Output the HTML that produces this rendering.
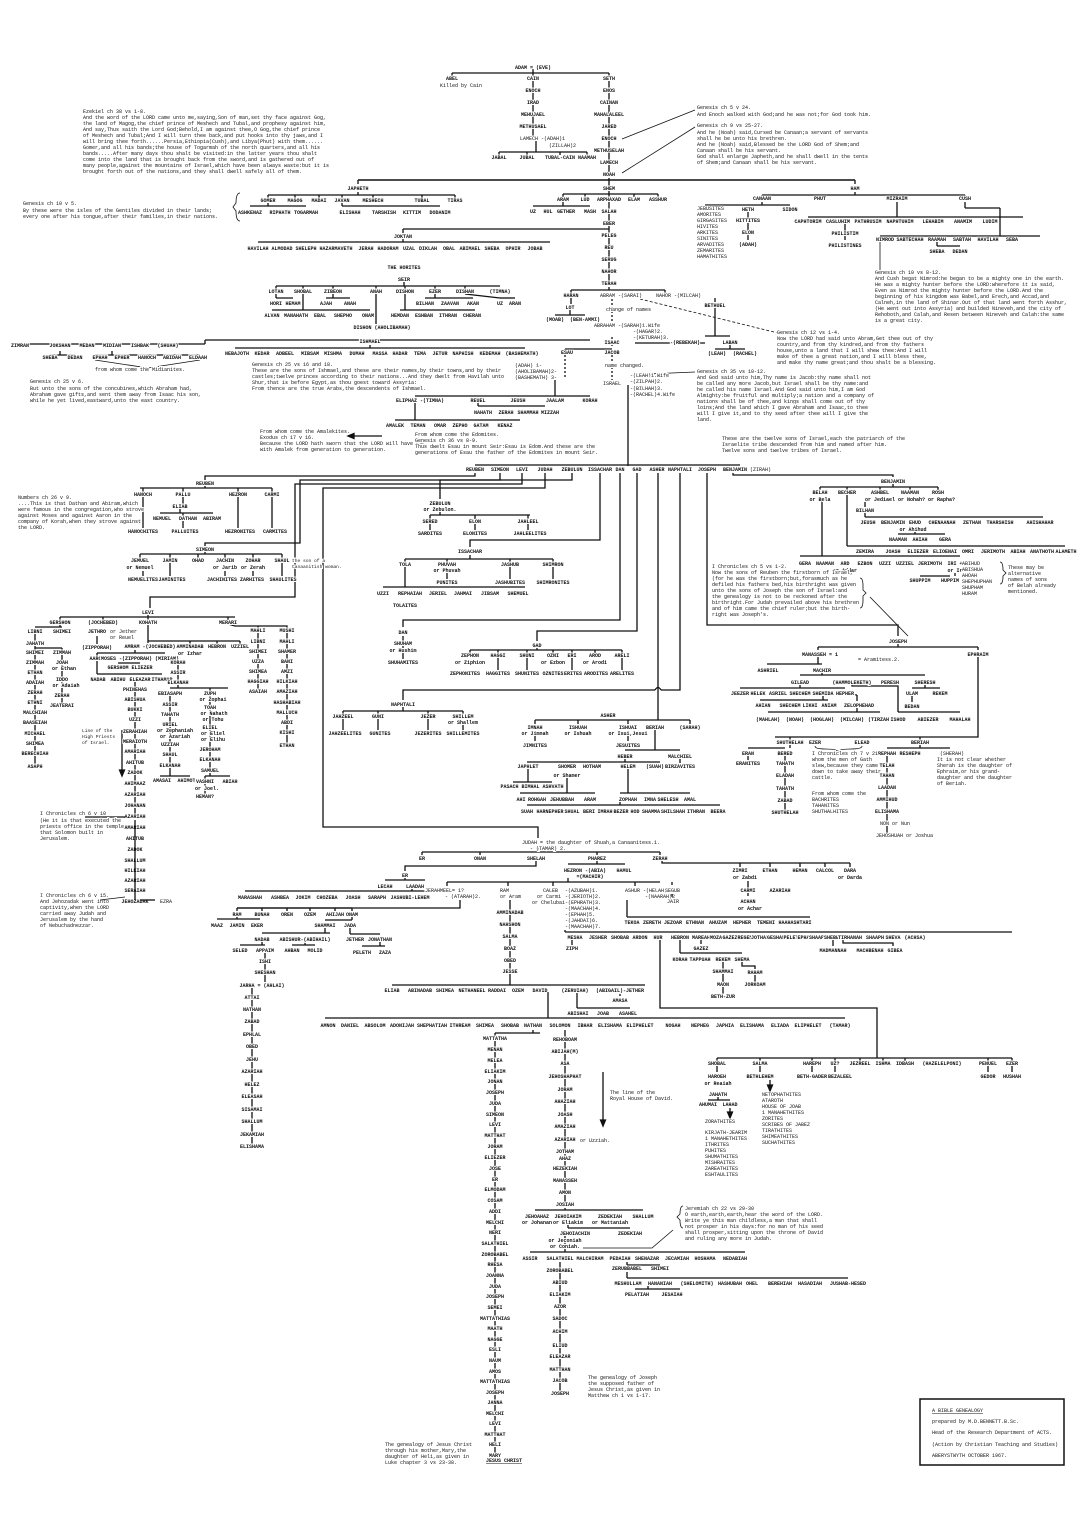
<!DOCTYPE html>
<html><head><meta charset="utf-8"><style>
html,body{margin:0;padding:0;background:#fff}
svg{display:block}
text{font-family:"Liberation Mono",monospace;font-size:5px;fill:#111;stroke:#fff;stroke-width:2;paint-order:stroke}
.n{text-anchor:middle;font-weight:bold}
.p{font-size:4.6px;fill:#222}
line,polyline,path{stroke:#111;stroke-width:1.3;fill:none}
.th{stroke-width:0.8}
</style></head><body>
<svg width="1085" height="1536" viewBox="0 0 1085 1536" xmlns="http://www.w3.org/2000/svg">
<rect width="1085" height="1536" fill="#fff"/>
<!-- ===== ADAM ===== -->
<line x1="533" y1="69" x2="533" y2="73"/><line x1="452" y1="73" x2="609" y2="73"/>
<line x1="452" y1="73" x2="452" y2="76"/>
<line x1="533" y1="73" x2="533" y2="140"/><line x1="609" y1="73" x2="609" y2="176"/>
<line x1="536" y1="140" x2="536" y2="152"/><line x1="499" y1="152" x2="587" y2="152"/>
<line x1="499" y1="152" x2="499" y2="155"/><line x1="527" y1="152" x2="527" y2="155"/><line x1="560" y1="152" x2="560" y2="155"/><line x1="587" y1="152" x2="587" y2="155"/>
<g class="n">
<text x="533" y="69">ADAM = (EVE)</text>
<text x="452" y="80">ABEL</text>
<text x="533" y="80">CAIN</text><text x="533" y="92">ENOCH</text><text x="533" y="104">IRAD</text><text x="533" y="116">MEHUJAEL</text><text x="533" y="128">METHUSAEL</text>
<text x="609" y="80">SETH</text><text x="609" y="92">ENOS</text><text x="609" y="104">CAINAN</text><text x="609" y="116">MAHALALEEL</text><text x="609" y="128">JARED</text><text x="609" y="140">ENOCH</text><text x="609" y="152">METHUSELAH</text><text x="609" y="164">LAMECH</text><text x="609" y="176">NOAH</text>
<text x="499" y="159">JABAL</text><text x="527" y="159">JUBAL</text><text x="560" y="159">TUBAL-CAIN</text><text x="587" y="159">NAAMAH</text>
</g>
<text x="440" y="87">Killed by Cain</text>
<text x="520" y="140">LAMECH -(ADAH)1</text><text x="549" y="147">(ZILLAH)2</text>
<line class="th" x1="622" y1="139" x2="695" y2="110"/><line class="th" x1="622" y1="173" x2="695" y2="127"/>
<g class="p">
<text x="697" y="109">Genesis ch 5 v 24.</text>
<text x="697" y="116">And Enoch walked with God;and he was not;for God took him.</text>
<text x="697" y="127">Genesis ch 9 vs 25-27.</text>
<text x="697" y="134">And he (Noah) said,Cursed be Canaan;a servant of servants</text>
<text x="697" y="140">shall he be unto his brethren.</text>
<text x="697" y="146">And he (Noah) said,Blessed be the LORD God of Shem;and</text>
<text x="697" y="152">Canaan shall be his servant.</text>
<text x="697" y="158">God shall enlarge Japheth,and he shall dwell in the tents</text>
<text x="697" y="164">of Shem;and Canaan shall be his servant.</text>
<text x="83" y="113">Ezekiel ch 38 vs 1-8.</text>
<text x="83" y="119">And the word of the LORD came unto me,saying,Son of man,set thy face against Gog,</text>
<text x="83" y="125">the land of Magog,the chief prince of Meshech and Tubal,and prophesy against him,</text>
<text x="83" y="131">And say,Thus saith the Lord God;Behold,I am against thee,O Gog,the chief prince</text>
<text x="83" y="137">of Meshech and Tubal;And I will turn thee back,and put hooks into thy jaws,and I</text>
<text x="83" y="143">will bring thee forth......Persia,Ethiopia(Cush),and Libya(Phut) with them......</text>
<text x="83" y="149">Gomer,and all his bands;the house of Togarmah of the north quarters,and all his</text>
<text x="83" y="155">bands.....After many days thou shalt be visited:in the latter years thou shalt</text>
<text x="83" y="161">come into the land that is brought back from the sword,and is gathered out of</text>
<text x="83" y="167">many people,against the mountains of Israel,which have been always waste:but it is</text>
<text x="83" y="173">brought forth out of the nations,and they shall dwell safely all of them.</text>
<text x="23" y="205">Genesis ch 10 v 5.</text>
<text x="23" y="212">By these were the isles of the Gentiles divided in their lands;</text>
<text x="23" y="218">every one after his tongue,after their families,in their nations.</text>
</g>
<!-- ===== NOAH's sons ===== -->
<line x1="609" y1="178" x2="609" y2="180"/>
<line x1="358" y1="180" x2="855" y2="180" style="stroke-width:1.6"/>
<line x1="358" y1="180" x2="358" y2="184"/><line x1="855" y1="180" x2="855" y2="184"/>
<line x1="609" y1="180" x2="609" y2="285"/>
<g class="n">
<text x="358" y="190">JAPHETH</text><text x="609" y="190">SHEM</text><text x="855" y="190">HAM</text>
</g>
<!-- Japheth -->
<line x1="358" y1="192" x2="358" y2="195"/><line x1="268" y1="195" x2="455" y2="195"/>
<line x1="268" y1="195" x2="268" y2="198"/><line x1="295" y1="195" x2="295" y2="198"/><line x1="319" y1="195" x2="319" y2="198"/><line x1="342" y1="195" x2="342" y2="198"/><line x1="373" y1="195" x2="373" y2="198"/><line x1="422" y1="195" x2="422" y2="198"/><line x1="455" y1="195" x2="455" y2="198"/>
<line x1="268" y1="203" x2="268" y2="206"/><line x1="250" y1="206" x2="306" y2="206"/>
<line x1="342" y1="203" x2="342" y2="206"/><line x1="342" y1="206" x2="440" y2="206"/>
<path class="th" d="M240 193 Q236 193 236 203 L233 207 L236 211 Q236 221 240 221"/>
<g class="n">
<text x="268" y="202">GOMER</text><text x="295" y="202">MAGOG</text><text x="319" y="202">MADAI</text><text x="342" y="202">JAVAN</text><text x="373" y="202">MESHECH</text><text x="422" y="202">TUBAL</text><text x="455" y="202">TIRAS</text>
<text x="250" y="214">ASHKENAZ</text><text x="280" y="214">RIPHATH</text><text x="306" y="214">TOGARMAH</text><text x="350" y="214">ELISHAH</text><text x="384" y="214">TARSHISH</text><text x="412" y="214">KITTIM</text><text x="440" y="214">DODANIM</text>
</g>
<!-- Shem -->
<line x1="563" y1="194" x2="658" y2="194"/>
<line x1="563" y1="194" x2="563" y2="197"/><line x1="585" y1="194" x2="585" y2="197"/><line x1="634" y1="194" x2="634" y2="197"/><line x1="658" y1="194" x2="658" y2="197"/>
<line x1="563" y1="202" x2="563" y2="206"/><line x1="533" y1="206" x2="590" y2="206"/>
<line x1="609" y1="229" x2="403" y2="229"/><line x1="403" y1="229" x2="403" y2="233"/>
<line x1="403" y1="238" x2="403" y2="242"/><line x1="258" y1="242" x2="550" y2="242"/>
<g class="n">
<text x="563" y="201">ARAM</text><text x="585" y="201">LUD</text><text x="609" y="201">ARPHAXAD</text><text x="634" y="201">ELAM</text><text x="658" y="201">ASSHUR</text>
<text x="533" y="213">UZ</text><text x="548" y="213">HUL</text><text x="566" y="213">GETHER</text><text x="590" y="213">MASH</text>
<text x="609" y="213">SALAH</text><text x="609" y="225">EBER</text><text x="609" y="237">PELEG</text><text x="609" y="249">REU</text><text x="609" y="261">SERUG</text><text x="609" y="273">NAHOR</text><text x="609" y="285">TERAH</text>
<text x="403" y="238">JOKTAN</text>
<text x="258" y="250">HAVILAH</text><text x="282" y="250">ALMODAD</text><text x="306" y="250">SHELEPH</text><text x="336" y="250">HAZARMAVETH</text><text x="366" y="250">JERAH</text><text x="388" y="250">HADORAM</text><text x="409" y="250">UZAL</text><text x="428" y="250">DIKLAH</text><text x="449" y="250">OBAL</text><text x="470" y="250">ABIMAEL</text><text x="492" y="250">SHEBA</text><text x="513" y="250">OPHIR</text><text x="535" y="250">JOBAB</text>
</g>
<!-- Seir -->
<line x1="404" y1="281" x2="404" y2="286"/><line x1="276" y1="286" x2="500" y2="286"/>
<line x1="276" y1="286" x2="276" y2="289"/><line x1="303" y1="286" x2="303" y2="289"/><line x1="333" y1="286" x2="333" y2="289"/><line x1="376" y1="286" x2="376" y2="289"/><line x1="405" y1="286" x2="405" y2="289"/><line x1="435" y1="286" x2="435" y2="289"/><line x1="465" y1="286" x2="465" y2="289"/>
<line x1="276" y1="294" x2="276" y2="298"/><line x1="276" y1="298" x2="293" y2="298"/>
<line x1="333" y1="294" x2="333" y2="298"/><line x1="326" y1="298" x2="350" y2="298"/>
<line x1="303" y1="294" x2="303" y2="310"/><line x1="272" y1="310" x2="370" y2="310"/>
<line x1="405" y1="294" x2="405" y2="310"/><line x1="400" y1="310" x2="475" y2="310"/>
<line x1="435" y1="294" x2="435" y2="298"/><line x1="425" y1="298" x2="473" y2="298"/>
<line x1="465" y1="294" x2="500" y2="298"/><line x1="500" y1="298" x2="515" y2="298"/>
<line x1="376" y1="294" x2="376" y2="324"/>
<g class="n">
<text x="404" y="269">THE HORITES</text><text x="404" y="281">SEIR</text>
<text x="276" y="293">LOTAN</text><text x="303" y="293">SHOBAL</text><text x="333" y="293">ZIBEON</text><text x="376" y="293">ANAH</text><text x="405" y="293">DISHON</text><text x="435" y="293">EZER</text><text x="465" y="293">DISHAN</text><text x="500" y="293">(TIMNA)</text>
<text x="276" y="305">HORI</text><text x="293" y="305">HEMAM</text><text x="326" y="305">AJAH</text><text x="350" y="305">ANAH</text><text x="425" y="305">BILHAN</text><text x="450" y="305">ZAAVAN</text><text x="473" y="305">AKAN</text><text x="500" y="305">UZ</text><text x="515" y="305">ARAN</text>
<text x="272" y="317">ALVAN</text><text x="296" y="317">MANAHATH</text><text x="320" y="317">EBAL</text><text x="343" y="317">SHEPHO</text><text x="368" y="317">ONAM</text>
<text x="400" y="317">HEMDAN</text><text x="424" y="317">ESHBAN</text><text x="448" y="317">ITHRAN</text><text x="472" y="317">CHERAN</text>
<text x="382" y="329">DISHON (AHOLIBAMAH)</text>
</g>
<!-- Terah -->
<line x1="609" y1="287" x2="609" y2="290"/><line x1="571" y1="290" x2="665" y2="290"/>
<line x1="571" y1="290" x2="571" y2="293"/><line x1="665" y1="290" x2="665" y2="293"/>
<line x1="571" y1="298" x2="571" y2="304"/><line x1="570" y1="310" x2="570" y2="315"/><line x1="555" y1="315" x2="585" y2="315"/>
<line x1="715" y1="298" x2="715" y2="302"/><line x1="715" y1="308" x2="715" y2="336"/><line x1="705" y1="336" x2="730" y2="336"/>
<line x1="612" y1="299" x2="612" y2="323" style="stroke-dasharray:2 2"/>
<line class="th" x1="640" y1="299" x2="778" y2="333" style="stroke-dasharray:3 2"/>
<g class="n">
<text x="571" y="297">HARAN</text><text x="570" y="309">LOT</text><text x="555" y="321">(MOAB)</text><text x="585" y="321">(BEN-AMMI)</text>
<text x="715" y="307">BETHUEL</text>
</g>
<text x="600" y="297">ABRAM -(SARAI)</text><text x="656" y="297">NAHOR -(MILCAH)</text>
<text x="606" y="311">change of names</text>
<text x="594" y="327">ABRAHAM -(SARAH)1.Wife</text><text x="633" y="333">-(HAGAR)2.</text><text x="633" y="339">-(KETURAH)3.</text>
<!-- Ham -->
<line x1="855" y1="192" x2="855" y2="195"/><line x1="762" y1="195" x2="965" y2="195"/>
<line x1="762" y1="195" x2="762" y2="197"/><line x1="820" y1="195" x2="820" y2="197"/><line x1="897" y1="195" x2="897" y2="197"/><line x1="965" y1="195" x2="965" y2="197"/>
<line x1="762" y1="202" x2="762" y2="205"/><line x1="705" y1="205" x2="790" y2="205"/>
<line x1="748" y1="212" x2="748" y2="240"/>
<line x1="897" y1="202" x2="897" y2="217"/><line x1="808" y1="217" x2="1023" y2="217"/>
<line x1="845" y1="224" x2="845" y2="240"/>
<line x1="965" y1="202" x2="965" y2="208"/><line x1="965" y1="208" x2="1000" y2="208"/><line x1="1000" y1="208" x2="1000" y2="236"/>
<line x1="880" y1="236" x2="1040" y2="236"/>
<line x1="937" y1="242" x2="937" y2="246"/><line x1="937" y1="246" x2="960" y2="246"/>
<line class="th" x1="880" y1="242" x2="880" y2="272"/>
<g class="n">
<text x="762" y="200">CANAAN</text><text x="820" y="200">PHUT</text><text x="897" y="200">MIZRAIM</text><text x="965" y="200">CUSH</text>
<text x="748" y="211">HETH</text><text x="790" y="211">SIDON</text>
<text x="748" y="222">HITTITES</text><text x="748" y="234">ELON</text><text x="748" y="246">(ADAH)</text>
<text x="808" y="223">CAPHTORIM</text><text x="838" y="223">CASLUHIM</text><text x="868" y="223">PATHRUSIM</text><text x="900" y="223">NAPHTUHIM</text><text x="933" y="223">LEHABIM</text><text x="963" y="223">ANAMIM</text><text x="990" y="223">LUDIM</text>
<text x="845" y="235">PHILISTIM</text><text x="845" y="247">PHILISTINES</text>
<text x="885" y="241">NIMROD</text><text x="910" y="241">SABTECHAH</text><text x="937" y="241">RAAMAH</text><text x="962" y="241">SABTAH</text><text x="988" y="241">HAVILAH</text><text x="1012" y="241">SEBA</text>
<text x="937" y="253">SHEBA</text><text x="960" y="253">DEDAN</text>
</g>
<g class="p">
<text x="697" y="210">JEBUSITES</text><text x="697" y="216">AMORITES</text><text x="697" y="222">GIRGASITES</text><text x="697" y="228">HIVITES</text><text x="697" y="234">ARKITES</text><text x="697" y="240">SINITES</text><text x="697" y="246">ARVADITES</text><text x="697" y="252">ZEMARITES</text><text x="697" y="258">HAMATHITES</text>
<text x="875" y="274">Genesis ch 10 vs 8-12.</text>
<text x="875" y="280">And Cush begat Nimrod:he began to be a mighty one in the earth.</text>
<text x="875" y="286">He was a mighty hunter before the LORD:wherefore it is said,</text>
<text x="875" y="292">Even as Nimrod the mighty hunter before the LORD.And the</text>
<text x="875" y="298">beginning of his kingdom was Babel,and Erech,and Accad,and</text>
<text x="875" y="304">Calneh,in the land of Shinar.Out of that land went forth Asshur,</text>
<text x="875" y="310">(He went out into Assyria) and builded Nineveh,and the city of</text>
<text x="875" y="316">Rehoboth,and Calah,and Resen between Nineveh and Calah:the same</text>
<text x="875" y="322">is a great city.</text>
<text x="777" y="334">Genesis ch 12 vs 1-4.</text>
<text x="777" y="340">Now the LORD had said unto Abram,Get thee out of thy</text>
<text x="777" y="346">country,and from thy kindred,and from thy fathers</text>
<text x="777" y="352">house,unto a land that I will shew thee:And I will</text>
<text x="777" y="358">make of thee a great nation,and I will bless thee,</text>
<text x="777" y="364">and make thy name great;and thou shalt be a blessing.</text>
</g>
<!-- ===== Abraham's line ===== -->
<line x1="612" y1="337" x2="612" y2="339"/>
<line x1="612" y1="343" x2="612" y2="346"/>
<line x1="15" y1="344" x2="205" y2="344"/><line x1="205" y1="344" x2="205" y2="340"/><line x1="205" y1="340" x2="590" y2="340"/>
<line x1="15" y1="344" x2="15" y2="346"/><line x1="60" y1="344" x2="60" y2="346"/><line x1="87" y1="344" x2="87" y2="346"/><line x1="112" y1="344" x2="112" y2="346"/><line x1="140" y1="344" x2="140" y2="346"/><line x1="168" y1="344" x2="168" y2="346"/>
<line x1="60" y1="351" x2="60" y2="355"/><line x1="50" y1="355" x2="75" y2="355"/>
<line x1="112" y1="351" x2="112" y2="355"/><line x1="95" y1="355" x2="200" y2="355"/>
<path class="th" d="M95 360 L148 368 L200 360"/>
<line x1="370" y1="340" x2="370" y2="342"/>
<line x1="370" y1="345" x2="370" y2="348"/><line x1="235" y1="348" x2="525" y2="348"/>
<line x1="635" y1="343" x2="705" y2="343"/>
<line x1="730" y1="345" x2="730" y2="349"/><line x1="715" y1="349" x2="745" y2="349"/>
<line x1="565" y1="349" x2="612" y2="349"/><line x1="565" y1="349" x2="565" y2="351"/>
<line x1="565" y1="355" x2="565" y2="378" style="stroke-dasharray:2 2"/>
<line x1="612" y1="355" x2="612" y2="380" style="stroke-dasharray:2 2"/>
<line x1="555" y1="380" x2="555" y2="396"/><line x1="415" y1="396" x2="590" y2="396"/>
<line x1="478" y1="402" x2="478" y2="406"/><line x1="478" y1="406" x2="545" y2="406"/>
<line x1="415" y1="402" x2="415" y2="420"/><line x1="395" y1="420" x2="520" y2="420"/>
<line x1="382" y1="436" x2="348" y2="436"/><path d="M348 436 l6 -2.5 l0 5 z" style="fill:#111"/>
<line x1="628" y1="385" x2="628" y2="466"/>
<line class="th" x1="648" y1="374" x2="695" y2="372"/>
<g class="n">
<text x="20" y="347">ZIMRAN</text><text x="60" y="347">JOKSHAN</text><text x="87" y="347">MEDAN</text><text x="112" y="347">MIDIAN</text><text x="140" y="347">ISHBAK</text><text x="168" y="347">(SHUAH)</text>
<text x="50" y="359">SHEBA</text><text x="75" y="359">DEDAN</text>
<text x="100" y="359">EPHAH</text><text x="122" y="359">EPHER</text><text x="147" y="359">HANOCH</text><text x="172" y="359">ABIDAH</text><text x="198" y="359">ELDAAH</text>
<text x="370" y="343">ISHMAEL</text>
<text x="612" y="344">ISAAC</text><text x="730" y="344">LABAN</text><text x="685" y="344">-(REBEKAH)</text>
<text x="717" y="355">(LEAH)</text><text x="745" y="355">(RACHEL)</text>
<text x="237" y="355">NEBAJOTH</text><text x="262" y="355">KEDAR</text><text x="285" y="355">ADBEEL</text><text x="310" y="355">MIBSAM</text><text x="333" y="355">MISHMA</text><text x="357" y="355">DUMAH</text><text x="380" y="355">MASSA</text><text x="400" y="355">HADAR</text><text x="420" y="355">TEMA</text><text x="440" y="355">JETUR</text><text x="463" y="355">NAPHISH</text><text x="490" y="355">KEDEMAH</text><text x="522" y="355">(BASHEMATH)</text>
<text x="567" y="354">ESAU</text><text x="612" y="354">JACOB</text>
<text x="420" y="402">ELIPHAZ -(TIMNA)</text><text x="478" y="402">REUEL</text><text x="518" y="402">JEUSH</text><text x="555" y="402">JAALAM</text><text x="590" y="402">KORAH</text>
<text x="483" y="414">NAHATH</text><text x="506" y="414">ZERAH</text><text x="528" y="414">SHAMMAH</text><text x="550" y="414">MIZZAH</text>
<text x="395" y="427">AMALEK</text><text x="418" y="427">TEMAN</text><text x="440" y="427">OMAR</text><text x="460" y="427">ZEPHO</text><text x="481" y="427">GATAM</text><text x="505" y="427">KENAZ</text>
</g>
<text x="605" y="367">name changed.</text>
<text x="603" y="385">ISRAEL</text>
<text x="630" y="377">-(LEAH)1.Wife</text><text x="630" y="383">-(ZILPAH)2.</text><text x="630" y="390">-(BILHAH)3.</text><text x="630" y="396">-(RACHEL)4.Wife</text>
<text x="515" y="367">(ADAH)    1-</text><text x="515" y="373">(AHOLIBAMAH)2-</text><text x="515" y="379">(BASHEMATH) 3-</text>
<g class="p">
<text x="95" y="371">from whom come the Midianites.</text>
<text x="30" y="383">Genesis ch 25 v 6.</text>
<text x="30" y="390">But unto the sons of the concubines,which Abraham had,</text>
<text x="30" y="396">Abraham gave gifts,and sent them away from Isaac his son,</text>
<text x="30" y="402">while he yet lived,eastward,unto the east country.</text>
<text x="252" y="366">Genesis ch 25 vs 16 and 18.</text>
<text x="252" y="372">These are the sons of Ishmael,and these are their names,by their towns,and by their</text>
<text x="252" y="378">castles;twelve princes according to their nations...And they dwelt from Havilah unto</text>
<text x="252" y="384">Shur,that is before Egypt,as thou goest toward Assyria:</text>
<text x="252" y="390">From thence are the true Arabs,the descendents of Ishmael.</text>
<text x="260" y="433">From whom come the Amalekites.</text>
<text x="260" y="439">Exodus ch 17 v 16.</text>
<text x="260" y="445">Because the LORD hath sworn that the LORD will have war</text>
<text x="260" y="451">with Amalek from generation to generation.</text>
<text x="415" y="436">From whom come the Edomites.</text>
<text x="415" y="442">Genesis ch 36 vs 8-9.</text>
<text x="415" y="448">Thus dwelt Esau in mount Seir:Esau is Edom.And these are the</text>
<text x="415" y="454">generations of Esau the father of the Edomites in mount Seir.</text>
<text x="697" y="373">Genesis ch 35 vs 10-12.</text>
<text x="697" y="379">And God said unto him,Thy name is Jacob:thy name shall not</text>
<text x="697" y="385">be called any more Jacob,but Israel shall be thy name:and</text>
<text x="697" y="391">he called his name Israel.And God said unto him,I am God</text>
<text x="697" y="397">Almighty:be fruitful and multiply;a nation and a company of</text>
<text x="697" y="403">nations shall be of thee,and kings shall come out of thy</text>
<text x="697" y="409">loins;And the land which I gave Abraham and Isaac,to thee</text>
<text x="697" y="415">will I give it,and to thy seed after thee will I give the</text>
<text x="697" y="421">land.</text>
<text x="722" y="440">These are the twelve sons of Israel,each the patriarch of the</text>
<text x="722" y="446">Israelite tribe descended from him and named after him.</text>
<text x="722" y="452">Twelve sons and twelve tribes of Israel.</text>
</g>
<!-- ===== 12 sons ===== -->
<line x1="475" y1="465" x2="740" y2="465"/>
<g class="n">
<text x="475" y="471">REUBEN</text><text x="500" y="471">SIMEON</text><text x="522" y="471">LEVI</text><text x="545" y="471">JUDAH</text><text x="572" y="471">ZEBULUN</text><text x="600" y="471">ISSACHAR</text><text x="620" y="471">DAN</text><text x="637" y="471">GAD</text><text x="657" y="471">ASHER</text><text x="680" y="471">NAPHTALI</text><text x="707" y="471">JOSEPH</text><text x="735" y="471">BENJAMIN</text>
</g>
<text x="750" y="471">(ZIRAH)</text>
<!-- connectors -->
<polyline points="475,473 475,476 205,476 205,480"/>
<polyline points="500,473 500,480 300,480 300,543 205,543 205,546"/>
<polyline points="522,473 522,484 295,484 295,597 150,597 150,608"/>
<polyline points="545,473 545,488 323,488 323,827 538,827 538,838"/>
<polyline points="572,473 572,480 440,480 440,499"/>
<polyline points="600,473 600,540 470,540 470,547"/>
<polyline points="620,473 620,620 403,620 403,627"/>
<polyline points="637,473 637,631 537,631 537,641"/>
<polyline points="680,473 680,690 661,690"/><polyline points="655,690 403,690 403,700"/>
<path d="M655 690 q3 -5 6 0"/>
<line x1="658" y1="473" x2="658" y2="720"/>
<polyline points="707,473 707,625 898,625 898,636"/>
<polyline points="733,473 733,475 893,475 893,477"/>
<!-- Reuben -->
<line x1="140" y1="488" x2="272" y2="488"/><line x1="205" y1="486" x2="205" y2="488"/>
<line x1="143" y1="488" x2="143" y2="492"/><line x1="183" y1="488" x2="183" y2="492"/><line x1="238" y1="488" x2="238" y2="492"/><line x1="272" y1="488" x2="272" y2="492"/>
<line x1="143" y1="497" x2="143" y2="528"/><line x1="238" y1="497" x2="238" y2="528"/><line x1="272" y1="497" x2="272" y2="528"/>
<line x1="183" y1="497" x2="183" y2="504"/><line x1="180" y1="509" x2="180" y2="513"/><line x1="160" y1="513" x2="213" y2="513"/><line x1="183" y1="513" x2="183" y2="528"/>
<g class="n">
<text x="205" y="485">REUBEN</text>
<text x="143" y="496">HANOCH</text><text x="183" y="496">PALLU</text><text x="238" y="496">HEZRON</text><text x="272" y="496">CARMI</text>
<text x="180" y="508">ELIAB</text>
<text x="162" y="520">NEMUEL</text><text x="188" y="520">DATHAN</text><text x="212" y="520">ABIRAM</text>
<text x="143" y="533">HANOCHITES</text><text x="185" y="533">PALLUITES</text><text x="240" y="533">HEZRONITES</text><text x="275" y="533">CARMITES</text>
</g>
<g class="p">
<text x="18" y="499">Numbers ch 26 v 9.</text>
<text x="18" y="505">....This is that Dathan and Abiram,which</text>
<text x="18" y="511">were famous in the congregation,who strove</text>
<text x="18" y="517">against Moses and against Aaron in the</text>
<text x="18" y="523">company of Korah,when they strove against</text>
<text x="18" y="529">the LORD.</text>
</g>
<!-- Simeon -->
<line x1="140" y1="554" x2="282" y2="554"/><line x1="205" y1="551" x2="205" y2="554"/>
<line x1="140" y1="554" x2="140" y2="558"/><line x1="170" y1="554" x2="170" y2="558"/><line x1="198" y1="554" x2="198" y2="558"/><line x1="225" y1="554" x2="225" y2="558"/><line x1="253" y1="554" x2="253" y2="558"/><line x1="282" y1="554" x2="282" y2="558"/>
<line x1="170" y1="563" x2="170" y2="576"/><line x1="143" y1="571" x2="143" y2="576"/><line x1="225" y1="571" x2="225" y2="576"/><line x1="253" y1="571" x2="253" y2="576"/><line x1="282" y1="563" x2="282" y2="576"/>
<g class="n">
<text x="205" y="551">SIMEON</text>
<text x="140" y="562">JEMUEL</text><text x="170" y="562">JAMIN</text><text x="198" y="562">OHAD</text><text x="225" y="562">JACHIN</text><text x="253" y="562">ZOHAR</text><text x="282" y="562">SHAUL</text>
<text x="140" y="569">or Nemuel</text><text x="225" y="569">or Jarib</text><text x="253" y="569">or Zerah</text>
<text x="143" y="581">NEMUELITES</text><text x="172" y="581">JAMINITES</text><text x="222" y="581">JACHINITES</text><text x="252" y="581">ZARHITES</text><text x="283" y="581">SHAULITES</text>
</g>
<text class="p" x="292" y="562">the son of a</text><text class="p" x="292" y="568">Canaanitish woman.</text>
<!-- Levi -->
<line x1="60" y1="617" x2="235" y2="617"/><line x1="148" y1="614" x2="148" y2="617"/>
<line x1="60" y1="617" x2="60" y2="620"/><line x1="103" y1="617" x2="103" y2="620"/><line x1="148" y1="617" x2="148" y2="620"/><line x1="228" y1="617" x2="228" y2="620"/>
<polyline points="228,624 235,626 287,626 287,629"/><line x1="258" y1="626" x2="258" y2="629"/>
<line x1="60" y1="624" x2="60" y2="627"/><line x1="35" y1="627" x2="62" y2="627"/>
<line x1="35" y1="633" x2="35" y2="766"/><line x1="35" y1="648" x2="62" y2="648"/><line x1="62" y1="648" x2="62" y2="704"/>
<line x1="97" y1="636" x2="97" y2="644"/>
<line x1="148" y1="624" x2="148" y2="646"/><line x1="148" y1="641" x2="240" y2="641"/>
<line x1="190" y1="641" x2="190" y2="645"/><line x1="217" y1="641" x2="217" y2="644"/><line x1="240" y1="641" x2="240" y2="644"/>
<line x1="135" y1="650" x2="135" y2="653"/><line x1="97" y1="653" x2="165" y2="653"/><line x1="97" y1="653" x2="97" y2="674"/>
<line x1="97" y1="674" x2="162" y2="674"/><line x1="118" y1="663" x2="140" y2="663"/>
<line x1="135" y1="681" x2="135" y2="818"/>
<line x1="178" y1="657" x2="178" y2="688"/><line x1="170" y1="688" x2="228" y2="688"/>
<line x1="170" y1="695" x2="170" y2="776"/><line x1="160" y1="776" x2="190" y2="776"/>
<line x1="210" y1="688" x2="210" y2="776"/><line x1="205" y1="776" x2="230" y2="776"/><line x1="205" y1="776" x2="205" y2="795"/>
<line x1="258" y1="633" x2="258" y2="690"/><line x1="287" y1="633" x2="287" y2="744"/>
<line x1="122" y1="730" x2="122" y2="772"/><path d="M122 776 l-2.5 -6 l5 0 z" style="fill:#111"/>
<g class="n">
<text x="148" y="614">LEVI</text>
<text x="60" y="624">GERSHON</text><text x="103" y="624">(JOCHEBED)</text><text x="148" y="624">KOHATH</text><text x="228" y="624">MERARI</text>
<text x="35" y="633">LIBNI</text><text x="62" y="633">SHIMEI</text><text x="35" y="645">JAHATH</text>
<text x="35" y="654">SHIMEI</text><text x="35" y="664">ZIMMAH</text><text x="35" y="674">ETHAN</text><text x="35" y="684">ADAIAH</text><text x="35" y="694">ZERAH</text><text x="35" y="704">ETHNI</text><text x="35" y="714">MALCHIAH</text><text x="35" y="724">BAASEIAH</text><text x="35" y="735">MICHAEL</text><text x="35" y="745">SHIMEA</text><text x="35" y="755">BERECHIAH</text><text x="35" y="768">ASAPH</text>
<text x="62" y="654">ZIMMAH</text><text x="62" y="664">JOAH</text><text x="64" y="670">or Ethan</text><text x="62" y="681">IDDO</text><text x="66" y="687">or Adaiah</text><text x="62" y="697">ZERAH</text><text x="62" y="707">JEATERAI</text>
<text x="97" y="633">JETHRO</text><text x="97" y="649">(ZIPPORAH)</text>
<text x="150" y="648">AMRAM -(JOCHEBED)</text><text x="190" y="648">AMMINADAB</text><text x="217" y="648">HEBRON</text><text x="240" y="648">UZZIEL</text>
<text x="190" y="655">or Izhar</text>
<text x="97" y="660">AARON</text><text x="140" y="660">MOSES -(ZIPPORAH) (MIRIAM)</text>
<text x="118" y="669">GERSHOM</text><text x="142" y="669">ELIEZER</text>
<text x="98" y="681">NADAB</text><text x="118" y="681">ABIHU</text><text x="140" y="681">ELEAZAR</text><text x="162" y="681">ITHAMAR</text>
<text x="135" y="691">PHINEHAS</text><text x="135" y="701">ABISHUA</text><text x="135" y="711">BUKKI</text><text x="135" y="721">UZZI</text><text x="135" y="733">ZERAHIAH</text><text x="135" y="743">MERAIOTH</text><text x="135" y="753">AMARIAH</text><text x="135" y="764">AHITUB</text><text x="135" y="774">ZADOK</text><text x="135" y="785">AHIMAAZ</text><text x="135" y="796">AZARIAH</text><text x="135" y="807">JOHANAN</text><text x="135" y="818">AZARIAH</text>
<text x="178" y="664">KORAH</text><text x="178" y="674">ASSIR</text><text x="178" y="684">ELKANAH</text>
<text x="170" y="695">EBIASAPH</text><text x="170" y="706">ASSIR</text><text x="170" y="716">TAHATH</text><text x="170" y="726">URIEL</text><text x="175" y="732">or Zephaniah</text><text x="175" y="738">or Azariah</text><text x="170" y="746">UZZIAH</text><text x="170" y="756">SHAUL</text><text x="170" y="767">ELKANAH</text>
<text x="162" y="782">AMASAI</text><text x="188" y="782">AHIMOTH</text>
<text x="210" y="695">ZUPH</text><text x="213" y="701">or Zophai</text><text x="210" y="709">TOAH</text><text x="214" y="715">or Nahath</text><text x="213" y="721">or Tohu</text><text x="210" y="729">ELIEL</text><text x="213" y="735">or Eliel</text><text x="213" y="741">or Elihu</text><text x="210" y="751">JEROHAM</text><text x="210" y="761">ELKANAH</text><text x="210" y="772">SAMUEL</text>
<text x="205" y="783">VASHNI</text><text x="230" y="783">ABIAH</text><text x="207" y="790">or Joel.</text><text x="205" y="798">HEMAN?</text>
<text x="258" y="632">MAHLI</text><text x="287" y="632">MUSHI</text>
<text x="258" y="643">LIBNI</text><text x="258" y="653">SHIMEI</text><text x="258" y="663">UZZA</text><text x="258" y="673">SHIMEA</text><text x="258" y="683">HAGGIAH</text><text x="258" y="693">ASAIAH</text>
<text x="287" y="643">MAHLI</text><text x="287" y="653">SHAMER</text><text x="287" y="663">BANI</text><text x="287" y="673">AMZI</text><text x="287" y="683">HILKIAH</text><text x="287" y="693">AMAZIAH</text><text x="287" y="704">HASHABIAH</text><text x="287" y="714">MALLUCH</text><text x="287" y="724">ABDI</text><text x="287" y="734">KISHI</text><text x="287" y="747">ETHAN</text>
</g>
<text x="110" y="633">or Jether</text><text x="110" y="639">or Reuel</text>
<text class="p" x="82" y="732">Line of the</text><text class="p" x="82" y="738">High Priests</text><text class="p" x="82" y="744">of Israel.</text>
<g class="n">
<text x="135" y="829">AMARIAH</text><text x="135" y="840">AHITUB</text><text x="135" y="851">ZADOK</text><text x="135" y="862">SHALLUM</text><text x="135" y="872">HILKIAH</text><text x="135" y="882">AZARIAH</text><text x="135" y="892">SERAIAH</text><text x="135" y="903">JEHOZADAK</text>
</g>
<line x1="135" y1="820" x2="135" y2="900"/><line x1="140" y1="900" x2="155" y2="900"/>
<text x="160" y="903">EZRA</text>
<line x1="125" y1="817" x2="85" y2="817"/>
<g class="p">
<text x="40" y="815">I Chronicles ch 6 v 10</text><text x="40" y="822">(He it is that executed the</text><text x="40" y="828">priests office in the temple</text><text x="40" y="834">that Solomon built in</text><text x="40" y="840">Jerusalem.</text>
<text x="40" y="897">I Chronicles ch 6 v 15.</text><text x="40" y="903">And Jehozadak went into</text><text x="40" y="909">captivity,when the LORD</text><text x="40" y="915">carried away Judah and</text><text x="40" y="921">Jerusalem by the hand</text><text x="40" y="927">of Nebuchadnezzar.</text>
</g>
<line class="th" x1="100" y1="900" x2="125" y2="897"/>
<!-- Zebulun -->
<line x1="430" y1="515" x2="530" y2="515"/><line x1="440" y1="512" x2="440" y2="515"/>
<line x1="430" y1="515" x2="430" y2="519"/><line x1="475" y1="515" x2="475" y2="519"/><line x1="528" y1="515" x2="528" y2="519"/>
<line x1="430" y1="524" x2="430" y2="530"/><line x1="475" y1="524" x2="475" y2="530"/><line x1="528" y1="524" x2="528" y2="530"/>
<g class="n">
<text x="440" y="505">ZEBULUN</text><text x="440" y="511">or Zebulon.</text>
<text x="430" y="523">SERED</text><text x="475" y="523">ELON</text><text x="528" y="523">JAHLEEL</text>
<text x="430" y="535">SARDITES</text><text x="475" y="535">ELONITES</text><text x="530" y="535">JAHLEELITES</text>
</g>
<!-- Issachar -->
<line x1="405" y1="559" x2="553" y2="559"/><line x1="470" y1="555" x2="470" y2="559"/>
<line x1="405" y1="559" x2="405" y2="562"/><line x1="447" y1="559" x2="447" y2="562"/><line x1="510" y1="559" x2="510" y2="562"/><line x1="553" y1="559" x2="553" y2="562"/>
<line x1="447" y1="573" x2="447" y2="579"/><line x1="510" y1="567" x2="510" y2="579"/><line x1="553" y1="567" x2="553" y2="579"/>
<line x1="405" y1="567" x2="405" y2="587"/><line x1="383" y1="587" x2="525" y2="587"/>
<g class="n">
<text x="470" y="553">ISSACHAR</text>
<text x="405" y="566">TOLA</text><text x="447" y="566">PHUVAH</text><text x="510" y="566">JASHUB</text><text x="553" y="566">SHIMRON</text>
<text x="447" y="572">or Phuvah</text>
<text x="447" y="584">PUNITES</text><text x="510" y="584">JASHUBITES</text><text x="553" y="584">SHIMRONITES</text>
<text x="383" y="595">UZZI</text><text x="410" y="595">REPHAIAH</text><text x="438" y="595">JERIEL</text><text x="463" y="595">JAHMAI</text><text x="490" y="595">JIBSAM</text><text x="518" y="595">SHEMUEL</text>
<text x="405" y="607">TOLAITES</text>
</g>
<!-- Dan, Gad -->
<line x1="403" y1="636" x2="403" y2="659"/>
<line x1="537" y1="647" x2="537" y2="650"/><line x1="470" y1="650" x2="622" y2="650"/>
<line x1="470" y1="650" x2="470" y2="653"/><line x1="498" y1="650" x2="498" y2="670"/><line x1="527" y1="650" x2="527" y2="670"/><line x1="553" y1="650" x2="553" y2="653"/><line x1="572" y1="650" x2="572" y2="670"/><line x1="595" y1="650" x2="595" y2="653"/><line x1="622" y1="650" x2="622" y2="670"/>
<g class="n">
<text x="403" y="634">DAN</text><text x="403" y="645">SHUHAM</text><text x="403" y="652">or Hushim</text><text x="403" y="664">SHUHAMITES</text>
<text x="537" y="647">GAD</text>
<text x="470" y="657">ZEPHON</text><text x="498" y="657">HAGGI</text><text x="527" y="657">SHUNI</text><text x="553" y="657">OZNI</text><text x="572" y="657">ERI</text><text x="595" y="657">AROD</text><text x="622" y="657">ARELI</text>
<text x="470" y="664">or Ziphion</text><text x="553" y="664">or Ezbon</text><text x="595" y="664">or Arodi</text>
<text x="465" y="675">ZEPHONITES</text><text x="498" y="675">HAGGITES</text><text x="527" y="675">SHUNITES</text><text x="553" y="675">OZNITES</text><text x="573" y="675">ERITES</text><text x="596" y="675">ARODITES</text><text x="622" y="675">ARELITES</text>
</g>
<!-- Naphtali -->
<line x1="343" y1="711" x2="463" y2="711"/><line x1="403" y1="707" x2="403" y2="711"/>
<line x1="343" y1="711" x2="343" y2="730"/><line x1="378" y1="711" x2="378" y2="730"/><line x1="428" y1="711" x2="428" y2="730"/><line x1="463" y1="711" x2="463" y2="714"/><line x1="463" y1="725" x2="463" y2="730"/>
<g class="n">
<text x="403" y="706">NAPHTALI</text>
<text x="343" y="718">JAHZEEL</text><text x="378" y="718">GUNI</text><text x="428" y="718">JEZER</text><text x="463" y="718">SHILLEM</text><text x="463" y="724">or Shallem</text>
<text x="345" y="735">JAHZEELITES</text><text x="380" y="735">GUNITES</text><text x="428" y="735">JEZERITES</text><text x="463" y="735">SHILLEMITES</text>
</g>
<!-- Asher -->
<line x1="535" y1="720" x2="690" y2="720"/>
<line x1="535" y1="720" x2="535" y2="724"/><line x1="578" y1="720" x2="578" y2="724"/><line x1="628" y1="720" x2="628" y2="724"/><line x1="690" y1="720" x2="690" y2="724"/>
<line x1="535" y1="736" x2="535" y2="741"/><line x1="628" y1="736" x2="628" y2="741"/>
<line x1="655" y1="729" x2="655" y2="750"/><line x1="625" y1="750" x2="680" y2="750"/>
<line x1="680" y1="759" x2="680" y2="763"/>
<line x1="625" y1="758" x2="625" y2="762"/><line x1="527" y1="762" x2="660" y2="762"/>
<line x1="528" y1="768" x2="528" y2="782"/><line x1="513" y1="782" x2="552" y2="782"/>
<line x1="567" y1="778" x2="567" y2="793"/><line x1="520" y1="793" x2="595" y2="793"/>
<line x1="628" y1="768" x2="628" y2="793"/><line x1="620" y1="793" x2="690" y2="793"/>
<line x1="620" y1="801" x2="620" y2="805"/><line x1="527" y1="805" x2="720" y2="805"/>
<g class="n">
<text x="608" y="717">ASHER</text>
<text x="535" y="729">IMNAH</text><text x="578" y="729">ISHUAH</text><text x="628" y="729">ISHUAI</text><text x="655" y="729">BERIAH</text><text x="690" y="729">(SARAH)</text>
<text x="535" y="735">or Jimnah</text><text x="578" y="735">or Ishuah</text><text x="628" y="735">or Isui,Jesui</text>
<text x="535" y="747">JIMNITES</text><text x="628" y="747">JESUITES</text>
<text x="625" y="758">HEBER</text><text x="680" y="758">MALCHIEL</text><text x="680" y="768">BIRZAVITES</text>
<text x="528" y="768">JAPHLET</text><text x="567" y="768">SHOMER</text><text x="592" y="768">HOTHAM</text><text x="628" y="768">HELEM</text><text x="655" y="768">(SUAH)</text>
<text x="567" y="777">or Shamer</text>
<text x="532" y="788">PASACH BIMHAL ASHVATH</text>
<text x="521" y="801">AHI</text><text x="537" y="801">ROHGAH</text><text x="562" y="801">JEHUBBAH</text><text x="590" y="801">ARAM</text>
<text x="628" y="801">ZOPHAH</text><text x="650" y="801">IMNA</text><text x="668" y="801">SHELESH</text><text x="690" y="801">AMAL</text>
<text x="527" y="813">SUAH</text><text x="550" y="813">HARNEPHER</text><text x="572" y="813">SHUAL</text><text x="589" y="813">BERI</text><text x="605" y="813">IMRAH</text><text x="621" y="813">BEZER</text><text x="635" y="813">HOD</text><text x="651" y="813">SHAMMA</text><text x="673" y="813">SHILSHAH</text><text x="696" y="813">ITHRAN</text><text x="718" y="813">BEERA</text>
</g>
<!-- Benjamin -->
<line x1="893" y1="483" x2="893" y2="487"/><line x1="820" y1="487" x2="938" y2="487"/>
<line x1="820" y1="487" x2="820" y2="490"/><line x1="847" y1="487" x2="847" y2="490"/><line x1="880" y1="487" x2="880" y2="490"/><line x1="910" y1="487" x2="910" y2="490"/><line x1="938" y1="487" x2="938" y2="490"/>
<line x1="865" y1="502" x2="865" y2="507"/><line x1="865" y1="512" x2="865" y2="517"/><line x1="865" y1="517" x2="1043" y2="517"/>
<line x1="915" y1="531" x2="915" y2="534"/><line x1="898" y1="534" x2="945" y2="534"/>
<line x1="847" y1="495" x2="847" y2="546"/><line x1="847" y1="546" x2="1065" y2="546"/>
<line x1="822" y1="501" x2="822" y2="556"/><line x1="800" y1="556" x2="960" y2="556"/>
<line x1="955" y1="573" x2="955" y2="576"/><line x1="920" y1="576" x2="950" y2="576"/>
<path class="th" d="M1000 562 q3 0 3 8 l3 3 l-3 3 q0 8 -3 8"/>
<g class="n">
<text x="893" y="483">BENJAMIN</text>
<text x="820" y="494">BELAH</text><text x="847" y="494">BECHER</text><text x="880" y="494">ASHBEL</text><text x="910" y="494">NAAMAN</text><text x="938" y="494">ROSH</text>
<text x="820" y="501">or Bela</text><text x="910" y="501">or Jediael or Nohah? or Rapha?</text>
<text x="865" y="512">BILHAN</text>
<text x="868" y="524">JEUSH</text><text x="893" y="524">BENJAMIN</text><text x="915" y="524">EHUD</text><text x="942" y="524">CHENAANAH</text><text x="972" y="524">ZETHAN</text><text x="1000" y="524">THARSHISH</text><text x="1040" y="524">AHISHAHAR</text>
<text x="913" y="531">or Ahihud</text>
<text x="898" y="541">NAAMAN</text><text x="920" y="541">AHIAH</text><text x="945" y="541">GERA</text>
<text x="865" y="553">ZEMIRA</text><text x="893" y="553">JOASH</text><text x="918" y="553">ELIEZER</text><text x="945" y="553">ELIOENAI</text><text x="968" y="553">OMRI</text><text x="993" y="553">JERIMOTH</text><text x="1018" y="553">ABIAH</text><text x="1042" y="553">ANATHOTH</text><text x="1066" y="553">ALAMETH</text>
<text x="805" y="565">GERA</text><text x="825" y="565">NAAMAN</text><text x="845" y="565">ARD</text><text x="865" y="565">EZBON</text><text x="885" y="565">UZZI</text><text x="905" y="565">UZZIEL</text><text x="930" y="565">JERIMOTH</text><text x="955" y="565">IRI +</text>
<text x="845" y="572">or Addar</text><text x="955" y="572">or Ir</text>
<text x="920" y="582">SHUPPIM</text><text x="950" y="582">HUPPIM</text>
</g>
<g class="p">
<text x="962" y="565">ABIHUD</text><text x="962" y="571">ABISHUA</text><text x="962" y="577">AHOAH</text><text x="962" y="583">SHEPHUPHAN</text><text x="962" y="589">SHUPHAM</text><text x="962" y="595">HURAM</text>
<text x="1008" y="569">These may be</text><text x="1008" y="575">alternative</text><text x="1008" y="581">names of sons</text><text x="1008" y="587">of Belah already</text><text x="1008" y="593">mentioned.</text>
<text x="712" y="568">I Chronicles ch 5 vs 1-2.</text>
<text x="712" y="574">Now the sons of Reuben the firstborn of Israel,</text>
<text x="712" y="580">(for he was the firstborn;but,forasmuch as he</text>
<text x="712" y="586">defiled his fathers bed,his birthright was given</text>
<text x="712" y="592">unto the sons of Joseph the son of Israel:and</text>
<text x="712" y="598">the genealogy is not to be reckoned after the</text>
<text x="712" y="604">birthright.For Judah prevailed above his brethren</text>
<text x="712" y="610">and of him came the chief ruler;but the birth-</text>
<text x="712" y="616">right was Joseph&apos;s.</text>
</g>
<path class="th" d="M860 578 q3 0 3 8 l0 4 l3 3 l-3 3 l0 4 q0 8 -3 8"/>
<line class="th" x1="870" y1="597" x2="908" y2="636"/>
<!-- Joseph -->
<line x1="898" y1="643" x2="898" y2="647"/><line x1="818" y1="647" x2="978" y2="647"/>
<line x1="818" y1="647" x2="818" y2="650"/><line x1="978" y1="647" x2="978" y2="650"/>
<line x1="818" y1="657" x2="818" y2="664"/><line x1="767" y1="664" x2="822" y2="664"/>
<line x1="822" y1="672" x2="822" y2="675"/><line x1="800" y1="675" x2="925" y2="675"/>
<line x1="800" y1="684" x2="800" y2="688"/><line x1="740" y1="688" x2="845" y2="688"/>
<line x1="823" y1="695" x2="823" y2="700"/><line x1="760" y1="700" x2="828" y2="700"/>
<line x1="857" y1="695" x2="857" y2="701"/><line x1="845" y1="695" x2="857" y2="695"/>
<line x1="857" y1="707" x2="857" y2="712"/><line x1="768" y1="712" x2="880" y2="712"/>
<polyline points="852,684 852,686 898,686 898,712"/><line x1="898" y1="712" x2="960" y2="712"/>
<line x1="925" y1="684" x2="925" y2="688"/><line x1="912" y1="688" x2="940" y2="688"/><line x1="912" y1="696" x2="912" y2="702"/>
<polyline points="978,657 978,737 775,737"/>
<line x1="790" y1="737" x2="790" y2="740"/><line x1="920" y1="737" x2="920" y2="740"/>
<line x1="790" y1="744" x2="790" y2="748"/><line x1="748" y1="748" x2="785" y2="748"/>
<line x1="748" y1="755" x2="748" y2="760"/><line x1="785" y1="755" x2="785" y2="812"/>
<line x1="920" y1="744" x2="920" y2="748"/><line x1="887" y1="748" x2="950" y2="748"/>
<line x1="887" y1="755" x2="887" y2="834"/>
<path class="th" d="M815 746 q0 3 10 3 q13 0 13 3 q0 -3 13 -3 q11 0 11 -3"/>
<g class="n">
<text x="898" y="643">JOSEPH</text>
<text x="820" y="656">MANASSEH = 1</text><text x="978" y="656">EPHRAIM</text>
<text x="768" y="672">ASHRIEL</text><text x="822" y="672">MACHIR</text>
<text x="800" y="684">GILEAD</text><text x="852" y="684">(HAMMOLEKETH)</text><text x="890" y="684">PERESH</text><text x="925" y="684">SHERESH</text>
<text x="740" y="695">JEEZER</text><text x="758" y="695">HELEK</text><text x="778" y="695">ASRIEL</text><text x="800" y="695">SHECHEM</text><text x="823" y="695">SHEMIDA</text><text x="845" y="695">HEPHER</text>
<text x="912" y="695">ULAM</text><text x="940" y="695">REKEM</text><text x="912" y="708">BEDAN</text>
<text x="763" y="707">AHIAN</text><text x="790" y="707">SHECHEM</text><text x="810" y="707">LIKHI</text><text x="829" y="707">ANIAM</text><text x="859" y="707">ZELOPHEHAD</text>
<text x="768" y="721">(MAHLAH)</text><text x="795" y="721">(NOAH)</text><text x="822" y="721">(HOGLAH)</text><text x="852" y="721">(MILCAH)</text><text x="880" y="721">(TIRZAH)</text>
<text x="898" y="721">ISHOD</text><text x="928" y="721">ABIEZER</text><text x="960" y="721">MAHALAH</text>
<text x="790" y="744">SHUTHELAH</text><text x="815" y="744">EZER</text><text x="862" y="744">ELEAD</text><text x="920" y="744">BERIAH</text>
<text x="748" y="755">ERAN</text><text x="785" y="755">BERED</text><text x="748" y="765">ERANITES</text>
<text x="785" y="765">TAHATH</text><text x="785" y="777">ELADAH</text><text x="785" y="790">TAHATH</text><text x="785" y="802">ZABAD</text><text x="785" y="814">SHUTHELAH</text>
<text x="887" y="755">REPHAH</text><text x="910" y="755">RESHEPH</text>
<text x="887" y="767">TELAH</text><text x="887" y="777">TAHAN</text><text x="887" y="789">LAADAN</text><text x="887" y="801">AMMIHUD</text><text x="887" y="813">ELISHAMA</text>
</g>
<text x="858" y="661">= Aramitess.2.</text>
<text x="880" y="825">NON or Nun</text><text x="876" y="837">JEHOSHUAH or Joshua</text>
<g class="p">
<text x="940" y="755">(SHERAH)</text>
<text x="937" y="761">It is not clear whether</text><text x="937" y="767">Sherah is the daughter of</text><text x="937" y="773">Ephraim,or his grand-</text><text x="937" y="779">daughter and the daughter</text><text x="937" y="785">of Beriah.</text>
<text x="812" y="755">I Chronicles ch 7 v 21</text><text x="812" y="761">whom the men of Gath</text><text x="812" y="767">slew,because they came</text><text x="812" y="773">down to take away their</text><text x="812" y="779">cattle.</text>
<text x="812" y="795">From whom come the</text><text x="812" y="801">BACHRITES</text><text x="812" y="807">TAHANITES</text><text x="812" y="813">SHUTHALHITES</text>
</g>
<!-- ===== JUDAH ===== -->
<line x1="538" y1="845" x2="538" y2="852"/><line x1="422" y1="852" x2="660" y2="852"/>
<line x1="422" y1="852" x2="422" y2="855"/><line x1="480" y1="852" x2="480" y2="855"/><line x1="597" y1="852" x2="597" y2="855"/><line x1="660" y1="852" x2="660" y2="855"/>
<polyline points="536,861 536,866 405,866 405,871"/>
<line x1="405" y1="877" x2="405" y2="880"/><line x1="385" y1="880" x2="425" y2="880"/>
<line x1="412" y1="889" x2="412" y2="891"/><line x1="245" y1="891" x2="425" y2="891"/>
<line x1="597" y1="861" x2="597" y2="864"/><line x1="568" y1="864" x2="625" y2="864"/>
<line x1="568" y1="878" x2="568" y2="882"/><line x1="447" y1="882" x2="660" y2="882"/>
<line x1="447" y1="882" x2="447" y2="886"/><line x1="508" y1="882" x2="508" y2="886"/><line x1="553" y1="882" x2="553" y2="886"/><line x1="635" y1="882" x2="635" y2="886"/><line x1="672" y1="882" x2="672" y2="885"/>
<polyline points="662,860 662,863 850,863"/>
<line x1="740" y1="863" x2="740" y2="867"/><line x1="770" y1="863" x2="770" y2="867"/><line x1="800" y1="863" x2="800" y2="867"/><line x1="825" y1="863" x2="825" y2="867"/><line x1="850" y1="863" x2="850" y2="867"/>
<line x1="748" y1="881" x2="748" y2="896"/>
<g class="n">
<text x="422" y="860">ER</text><text x="480" y="860">ONAN</text><text x="536" y="860">SHELAH</text><text x="597" y="860">PHAREZ</text><text x="660" y="860">ZERAH</text>
<text x="405" y="877">ER</text>
<text x="385" y="888">LECAH</text><text x="415" y="888">LAADAH</text>
<text x="250" y="899">MARASHAH</text><text x="280" y="899">ASHBEA</text><text x="303" y="899">JOKIM</text><text x="327" y="899">CHOZEBA</text><text x="353" y="899">JOASH</text><text x="377" y="899">SARAPH</text><text x="410" y="899">JASHUBI-LEHEM</text>
<text x="585" y="872">HEZRON -(ABIA)</text><text x="624" y="872">HAMUL</text><text x="590" y="878">=(MACHIR)</text>
<text x="740" y="872">ZIMRI</text><text x="770" y="872">ETHAN</text><text x="800" y="872">HEMAN</text><text x="825" y="872">CALCOL</text><text x="850" y="872">DARA</text>
<text x="745" y="879">or Zabdi</text><text x="850" y="879">or Darda</text>
<text x="748" y="892">CARMI</text><text x="780" y="892">AZARIAH</text><text x="748" y="903">ACHAN</text><text x="750" y="910">or Achar</text>
</g>
<text x="522" y="844">JUDAH = the daughter of Shuah,a Canaanitess.1.</text>
<text x="530" y="850">- (TAMAR) 2.</text>
<text x="425" y="892">JERAHMEEL= 1?</text><text x="445" y="898">- (ATARAH)2.</text>
<text x="500" y="892">RAM</text><text x="500" y="898">or Aram</text>
<text x="543" y="892">CALEB</text><text x="537" y="898">or Carmi</text><text x="532" y="904">or Chelubai</text>
<g class="p">
<text x="565" y="892">-(AZUBAH)1.</text><text x="565" y="898">-(JERIOTH)2.</text><text x="565" y="904">-(EPHRATH)3.</text><text x="565" y="910">-(MAACHAH)4.</text><text x="565" y="916">-(EPHAH)5.</text><text x="565" y="922">-(JAHDAI)6.</text><text x="565" y="928">-(MAACHAH)7.</text>
</g>
<text x="625" y="892">ASHUR -(HELAH)1</text><text x="645" y="898">-(NAARAH)2</text>
<text x="665" y="892">SEGUB</text><line x1="672" y1="894" x2="672" y2="897"/><text x="667" y="903">JAIR</text>
<!-- Jerahmeel -->
<polyline points="460,900 460,908 237,908"/><line x1="237" y1="908" x2="352" y2="908"/>
<line x1="237" y1="908" x2="237" y2="911"/><line x1="262" y1="908" x2="262" y2="911"/><line x1="287" y1="908" x2="287" y2="911"/><line x1="310" y1="908" x2="310" y2="911"/><line x1="335" y1="908" x2="335" y2="911"/><line x1="352" y1="908" x2="352" y2="911"/>
<line x1="237" y1="916" x2="237" y2="919"/><line x1="217" y1="919" x2="260" y2="919"/>
<line x1="352" y1="916" x2="352" y2="920"/><line x1="325" y1="920" x2="352" y2="920"/>
<line x1="325" y1="927" x2="325" y2="933"/><line x1="262" y1="933" x2="330" y2="933"/>
<line x1="350" y1="927" x2="350" y2="934"/><line x1="350" y1="934" x2="380" y2="934"/>
<line x1="262" y1="941" x2="262" y2="945"/><line x1="240" y1="945" x2="265" y2="945"/>
<line x1="305" y1="941" x2="305" y2="945"/><line x1="292" y1="945" x2="315" y2="945"/>
<line x1="380" y1="941" x2="380" y2="946"/><line x1="362" y1="946" x2="385" y2="946"/>
<line x1="265" y1="952" x2="265" y2="982"/><line x1="252" y1="988" x2="252" y2="1146"/>
<g class="n">
<text x="237" y="916">RAM</text><text x="262" y="916">BUNAH</text><text x="287" y="916">OREN</text><text x="310" y="916">OZEM</text><text x="335" y="916">AHIJAH</text><text x="352" y="916">ONAM</text>
<text x="217" y="927">MAAZ</text><text x="237" y="927">JAMIN</text><text x="257" y="927">EKER</text>
<text x="325" y="927">SHAMMAI</text><text x="350" y="927">JADA</text>
<text x="262" y="941">NADAB</text><text x="305" y="941">ABISHUR-(ABIHAIL)</text><text x="355" y="941">JETHER</text><text x="380" y="941">JONATHAN</text>
<text x="240" y="952">SELED</text><text x="265" y="952">APPAIM</text><text x="292" y="952">AHBAN</text><text x="315" y="952">MOLID</text><text x="362" y="954">PELETH</text><text x="385" y="954">ZAZA</text>
<text x="265" y="963">ISHI</text><text x="265" y="974">SHESHAN</text>
<text x="262" y="987">JARHA = (AHLAI)</text>
<text x="252" y="999">ATTAI</text><text x="252" y="1011">NATHAN</text><text x="252" y="1023">ZABAD</text><text x="252" y="1036">EPHLAL</text><text x="252" y="1048">OBED</text><text x="252" y="1061">JEHU</text><text x="252" y="1073">AZARIAH</text><text x="252" y="1086">HELEZ</text><text x="252" y="1098">ELEASAH</text><text x="252" y="1111">SISAMAI</text><text x="252" y="1123">SHALLUM</text><text x="252" y="1136">JEKAMIAH</text><text x="252" y="1148">ELISHAMA</text>
</g>
<!-- Ram / David -->
<line x1="510" y1="900" x2="510" y2="985"/>
<line x1="392" y1="985" x2="645" y2="985"/>
<line x1="548" y1="992" x2="548" y2="1018"/>
<line x1="577" y1="992" x2="577" y2="1008"/><line x1="577" y1="1008" x2="630" y2="1008"/>
<line x1="620" y1="992" x2="620" y2="996"/>
<line x1="325" y1="1018" x2="845" y2="1018"/>
<g class="n">
<text x="510" y="914">AMMINADAB</text><text x="510" y="926">NAHSHON</text><text x="510" y="938">SALMA</text><text x="510" y="950">BOAZ</text><text x="510" y="962">OBED</text><text x="510" y="973">JESSE</text>
<text x="392" y="992">ELIAB</text><text x="420" y="992">ABINADAB</text><text x="445" y="992">SHIMEA</text><text x="472" y="992">NETHANEEL</text><text x="497" y="992">RADDAI</text><text x="518" y="992">OZEM</text><text x="540" y="992">DAVID</text><text x="575" y="992">(ZERUIAH)</text><text x="620" y="992">(ABIGAIL)-JETHER</text>
<text x="620" y="1002">AMASA</text>
<text x="578" y="1015">ABISHAI</text><text x="603" y="1015">JOAB</text><text x="628" y="1015">ASAHEL</text>
<text x="328" y="1027">AMNON</text><text x="350" y="1027">DANIEL</text><text x="375" y="1027">ABSOLOM</text><text x="402" y="1027">ADONIJAH</text><text x="432" y="1027">SHEPHATIAH</text><text x="460" y="1027">ITHREAM</text><text x="485" y="1027">SHIMEA</text><text x="510" y="1027">SHOBAB</text><text x="533" y="1027">NATHAN</text><text x="560" y="1027">SOLOMON</text><text x="585" y="1027">IBHAR</text><text x="610" y="1027">ELISHAMA</text><text x="640" y="1027">ELIPHELET</text><text x="673" y="1027">NOGAH</text><text x="700" y="1027">NEPHEG</text><text x="725" y="1027">JAPHIA</text><text x="752" y="1027">ELISHAMA</text><text x="780" y="1027">ELIADA</text><text x="808" y="1027">ELIPHELET</text><text x="840" y="1027">(TAMAR)</text>
</g>
<!-- Caleb branch -->
<line x1="627" y1="900" x2="627" y2="917"/><line x1="627" y1="917" x2="810" y2="917"/>
<line x1="565" y1="930" x2="565" y2="932"/><line x1="565" y1="932" x2="1012" y2="932"/>
<line x1="572" y1="939" x2="572" y2="945"/>
<line x1="680" y1="939" x2="680" y2="953"/><line x1="680" y1="953" x2="742" y2="953"/>
<line x1="701" y1="939" x2="701" y2="944"/>
<line x1="723" y1="962" x2="723" y2="994"/><polyline points="742,962 742,966 755,966 755,969"/><line x1="755" y1="975" x2="755" y2="982"/>
<line x1="833" y1="939" x2="833" y2="946"/>
<polyline points="843,939 843,943 893,943 893,946"/>
<polyline points="660,939 660,1008 877,1008 877,1058"/>
<g class="n">
<text x="632" y="924">TEKOA</text><text x="652" y="924">ZERETH</text><text x="673" y="924">JEZOAR</text><text x="695" y="924">ETHNAN</text><text x="718" y="924">AHUZAM</text><text x="742" y="924">HEPHER</text><text x="766" y="924">TEMENI</text><text x="795" y="924">HAAHASHTARI</text>
<text x="575" y="939">MESHA</text><text x="598" y="939">JESHER</text><text x="620" y="939">SHOBAB</text><text x="640" y="939">ARDON</text><text x="658" y="939">HUR</text><text x="680" y="939">HEBRON</text><text x="701" y="939">MAREAH</text><text x="716" y="939">MOZA</text><text x="730" y="939">GAZEZ</text><text x="745" y="939">REGEM</text><text x="760" y="939">JOTHAM</text><text x="776" y="939">GESHAM</text><text x="791" y="939">PELET</text><text x="805" y="939">EPHAH</text><text x="818" y="939">SHAAPH</text><text x="833" y="939">SHEBER</text>
<text x="850" y="939">TIRHANAH</text><text x="875" y="939">SHAAPH</text><text x="893" y="939">SHEVA</text><text x="915" y="939">(ACHSA)</text>
<text x="572" y="950">ZIPH</text><text x="701" y="950">GAZEZ</text>
<text x="833" y="952">MADMANNAH</text><text x="870" y="952">MACHBENAH</text><text x="895" y="952">GIBEA</text>
<text x="680" y="961">KORAH</text><text x="700" y="961">TAPPUAH</text><text x="723" y="961">REKEM</text><text x="742" y="961">SHEMA</text>
<text x="723" y="973">SHAMMAI</text><text x="755" y="974">RAHAM</text>
<text x="723" y="986">MAON</text><text x="755" y="986">JORKOAM</text>
<text x="723" y="998">BETH-ZUR</text>
</g>
<!-- Hur -->
<line x1="717" y1="1058" x2="1012" y2="1058"/>
<line x1="717" y1="1058" x2="717" y2="1061"/><line x1="760" y1="1058" x2="760" y2="1061"/><line x1="812" y1="1058" x2="812" y2="1061"/><line x1="835" y1="1058" x2="835" y2="1061"/><line x1="860" y1="1058" x2="860" y2="1061"/><line x1="883" y1="1058" x2="883" y2="1061"/><line x1="905" y1="1058" x2="905" y2="1061"/><line x1="988" y1="1058" x2="988" y2="1061"/><line x1="1012" y1="1058" x2="1012" y2="1061"/>
<line x1="717" y1="1066" x2="717" y2="1072"/><line x1="760" y1="1066" x2="760" y2="1072"/><line x1="812" y1="1066" x2="812" y2="1072"/><line x1="835" y1="1066" x2="835" y2="1072"/><line x1="988" y1="1066" x2="988" y2="1072"/><line x1="1012" y1="1066" x2="1012" y2="1072"/>
<line x1="718" y1="1096" x2="718" y2="1100"/><line x1="708" y1="1100" x2="730" y2="1100"/>
<line x1="730" y1="1108" x2="730" y2="1116"/><path d="M730 1118 l-2.5 -6 l5 0 z" style="fill:#111"/>
<line x1="770" y1="1080" x2="770" y2="1089"/><path d="M770 1091 l-2.5 -6 l5 0 z" style="fill:#111"/>
<g class="n">
<text x="717" y="1065">SHOBAL</text><text x="760" y="1065">SALMA</text><text x="812" y="1065">HAREPH</text><text x="835" y="1065">UZ?</text><text x="860" y="1065">JEZREEL</text><text x="883" y="1065">ISHMA</text><text x="905" y="1065">IDBASH</text><text x="942" y="1065">(HAZELELPONI)</text><text x="988" y="1065">PENUEL</text><text x="1012" y="1065">EZER</text>
<text x="717" y="1078">HAROEH</text><text x="760" y="1078">BETHLEHEM</text><text x="812" y="1078">BETH-GADER</text><text x="840" y="1078">BEZALEEL</text><text x="988" y="1078">GEDOR</text><text x="1012" y="1078">HUSHAH</text>
<text x="718" y="1085">or Reaiah</text><text x="718" y="1096">JAHATH</text>
<text x="708" y="1106">AHUMAI</text><text x="730" y="1106">LAHAD</text>
</g>
<g class="p">
<text x="705" y="1123">ZORATHITES</text>
<text x="705" y="1134">KIRJATH-JEARIM</text><text x="705" y="1140">1 MANAHETHITES</text><text x="705" y="1146">ITHRITES</text><text x="705" y="1152">PUHITES</text><text x="705" y="1158">SHUMATHITES</text><text x="705" y="1164">MISHRAITES</text><text x="705" y="1170">ZAREATHITES</text><text x="705" y="1176">ESHTAULITES</text>
<text x="762" y="1096">NETOPHATHITES</text><text x="762" y="1102">ATAROTH</text><text x="762" y="1108">HOUSE OF JOAB</text><text x="762" y="1114">1 MANAHETHITES</text><text x="762" y="1120">ZORITES</text><text x="762" y="1126">SCRIBES OF JABEZ</text><text x="762" y="1132">TIRATHITES</text><text x="762" y="1138">SHIMEATHITES</text><text x="762" y="1144">SUCHATHITES</text>
</g>
<!-- Nathan line (Luke) -->
<line x1="533" y1="1030" x2="533" y2="1033"/><line x1="495" y1="1033" x2="540" y2="1033"/>
<line x1="495" y1="1033" x2="495" y2="1455"/>
<g class="n">
<text x="495" y="1040">MATTATHA</text><text x="495" y="1051">MENAN</text><text x="495" y="1062">MELEA</text><text x="495" y="1073">ELIAKIM</text><text x="495" y="1083">JONAN</text><text x="495" y="1094">JOSEPH</text><text x="495" y="1105">JUDA</text><text x="495" y="1116">SIMEON</text><text x="495" y="1126">LEVI</text><text x="495" y="1137">MATTHAT</text><text x="495" y="1148">JORAM</text><text x="495" y="1159">ELIEZER</text><text x="495" y="1170">JOSE</text><text x="495" y="1181">ER</text><text x="495" y="1191">ELMODAM</text><text x="495" y="1202">COSAM</text><text x="495" y="1213">ADDI</text><text x="495" y="1224">MELCHI</text><text x="495" y="1234">NERI</text><text x="495" y="1245">SALATHIEL</text><text x="495" y="1256">ZOROBABEL</text><text x="495" y="1266">RHESA</text><text x="495" y="1277">JOANNA</text><text x="495" y="1288">JUDA</text><text x="495" y="1298">JOSEPH</text><text x="495" y="1309">SEMEI</text><text x="495" y="1320">MATTATHIAS</text><text x="495" y="1330">MAATH</text><text x="495" y="1341">NAGGE</text><text x="495" y="1351">ESLI</text><text x="495" y="1362">NAUM</text><text x="495" y="1373">AMOS</text><text x="495" y="1383">MATTATHIAS</text><text x="495" y="1394">JOSEPH</text><text x="495" y="1404">JANNA</text><text x="495" y="1415">MELCHI</text><text x="495" y="1425">LEVI</text><text x="495" y="1436">MATTHAT</text><text x="495" y="1446">HELI</text><text x="495" y="1457">MARY</text>
<text x="504" y="1462" style="text-decoration:underline">JESUS CHRIST</text>
</g>
<g class="p">
<text x="385" y="1446">The genealogy of Jesus Christ</text><text x="385" y="1452">through his mother,Mary,the</text><text x="385" y="1458">daughter of Heli,as given in</text><text x="385" y="1464">Luke chapter 3 vs 23-38.</text>
</g>
<!-- Solomon line (kings) -->
<line x1="565" y1="1030" x2="565" y2="1204"/>
<g class="n">
<text x="565" y="1041">REHOBOAM</text><text x="565" y="1053">ABIJAH(M)</text><text x="565" y="1065">ASA</text><text x="565" y="1078">JEHOSHAPHAT</text><text x="565" y="1091">JORAM</text><text x="565" y="1103">AHAZIAH</text><text x="565" y="1116">JOASH</text><text x="565" y="1128">AMAZIAH</text><text x="565" y="1141">AZARIAH</text><text x="565" y="1153">JOTHAM</text><text x="565" y="1160">AHAZ</text><text x="565" y="1170">HEZEKIAH</text><text x="565" y="1182">MANASSEH</text><text x="565" y="1194">AMON</text><text x="565" y="1206">JOSIAH</text>
</g>
<text x="580" y="1142">or Uzziah.</text>
<line x1="603" y1="1072" x2="603" y2="1122"/><path d="M603 1126 l-2.5 -6 l5 0 z" style="fill:#111"/>
<g class="p"><text x="610" y="1094">The line of the</text><text x="610" y="1100">Royal House of David.</text></g>
<line x1="565" y1="1208" x2="565" y2="1210"/><line x1="535" y1="1210" x2="643" y2="1210"/>
<line x1="568" y1="1224" x2="568" y2="1228"/><line x1="568" y1="1228" x2="630" y2="1228"/>
<line x1="565" y1="1236" x2="565" y2="1252"/>
<polyline class="th" points="583,1248 652,1248 673,1230"/>
<line x1="530" y1="1252" x2="745" y2="1252"/>
<g class="n">
<text x="537" y="1218">JEHOAHAZ</text><text x="568" y="1218">JEHOIAKIM</text><text x="610" y="1218">ZEDEKIAH</text><text x="643" y="1218">SHALLUM</text>
<text x="537" y="1224">or Johanan</text><text x="568" y="1224">or Eliakim</text><text x="610" y="1224">or Mattaniah</text>
<text x="575" y="1235">JEHOIACHIN</text><text x="630" y="1235">ZEDEKIAH</text>
<text x="565" y="1242">or Jeconiah</text><text x="565" y="1248">or Coniah.</text>
<text x="530" y="1260">ASSIR</text><text x="560" y="1260">SALATHIEL</text><text x="590" y="1260">MALCHIRAM</text><text x="620" y="1260">PEDAIAH</text><text x="647" y="1260">SHENAZAR</text><text x="677" y="1260">JECAMIAH</text><text x="705" y="1260">HOSHAMA</text><text x="735" y="1260">NEDABIAH</text>
</g>
<g class="p">
<text x="685" y="1210">Jeremiah ch 22 vs 29-30</text><text x="685" y="1216">O earth,earth,earth,hear the word of the LORD.</text><text x="685" y="1222">Write ye this man childless,a man that shall</text><text x="685" y="1228">not prosper in his days:for no man of his seed</text><text x="685" y="1234">shall prosper,sitting upon the throne of David</text><text x="685" y="1240">and ruling any more in Judah.</text>
</g>
<path class="th" d="M683 1206 q-3 0 -3 8 l-3 3 l3 3 q0 8 3 8"/>
<line x1="627" y1="1262" x2="627" y2="1265"/><line x1="627" y1="1265" x2="660" y2="1265"/>
<line x1="627" y1="1272" x2="627" y2="1278"/><line x1="627" y1="1278" x2="848" y2="1278"/>
<line x1="648" y1="1286" x2="648" y2="1289"/><line x1="635" y1="1289" x2="680" y2="1289"/>
<g class="n">
<text x="627" y="1270">ZERUBBABEL</text><text x="660" y="1270">SHIMEI</text>
<text x="628" y="1285">MESHULLAM</text><text x="660" y="1285">HANANIAH</text><text x="697" y="1285">(SHELOMITH)</text><text x="730" y="1285">HASHUBAH</text><text x="752" y="1285">OHEL</text><text x="780" y="1285">BEREHIAH</text><text x="810" y="1285">HASADIAH</text><text x="848" y="1285">JUSHAB-HESED</text>
<text x="637" y="1296">PELATIAH</text><text x="672" y="1296">JESAIAH</text>
</g>
<line x1="560" y1="1262" x2="560" y2="1393"/>
<g class="n">
<text x="560" y="1272">ZOROBABEL</text><text x="560" y="1284">ABIUD</text><text x="560" y="1296">ELIAKIM</text><text x="560" y="1308">AZOR</text><text x="560" y="1320">SADOC</text><text x="560" y="1333">ACHIM</text><text x="560" y="1347">ELIUD</text><text x="560" y="1358">ELEAZAR</text><text x="560" y="1371">MATTHAN</text><text x="560" y="1382">JACOB</text><text x="560" y="1395">JOSEPH</text>
</g>
<g class="p">
<text x="588" y="1379">The genealogy of Joseph</text><text x="588" y="1385">the supposed father of</text><text x="588" y="1391">Jesus Christ,as given in</text><text x="588" y="1397">Matthew ch 1 vs 1-17.</text>
</g>
<!-- Box -->
<rect x="920" y="1399" width="144" height="66" style="fill:none;stroke:#111;stroke-width:1.5"/>
<g class="p">
<text x="932" y="1412" style="text-decoration:underline">A BIBLE GENEALOGY</text>
<text x="932" y="1423">prepared by M.D.BENNETT.B.Sc.</text>
<text x="932" y="1434">Head of the Research Department of ACTS.</text>
<text x="932" y="1446">(Action by Christian Teaching and Studies)</text>
<text x="932" y="1457">ABERYSTWYTH  OCTOBER  1967.</text>
</g>
</svg>
</body></html>
